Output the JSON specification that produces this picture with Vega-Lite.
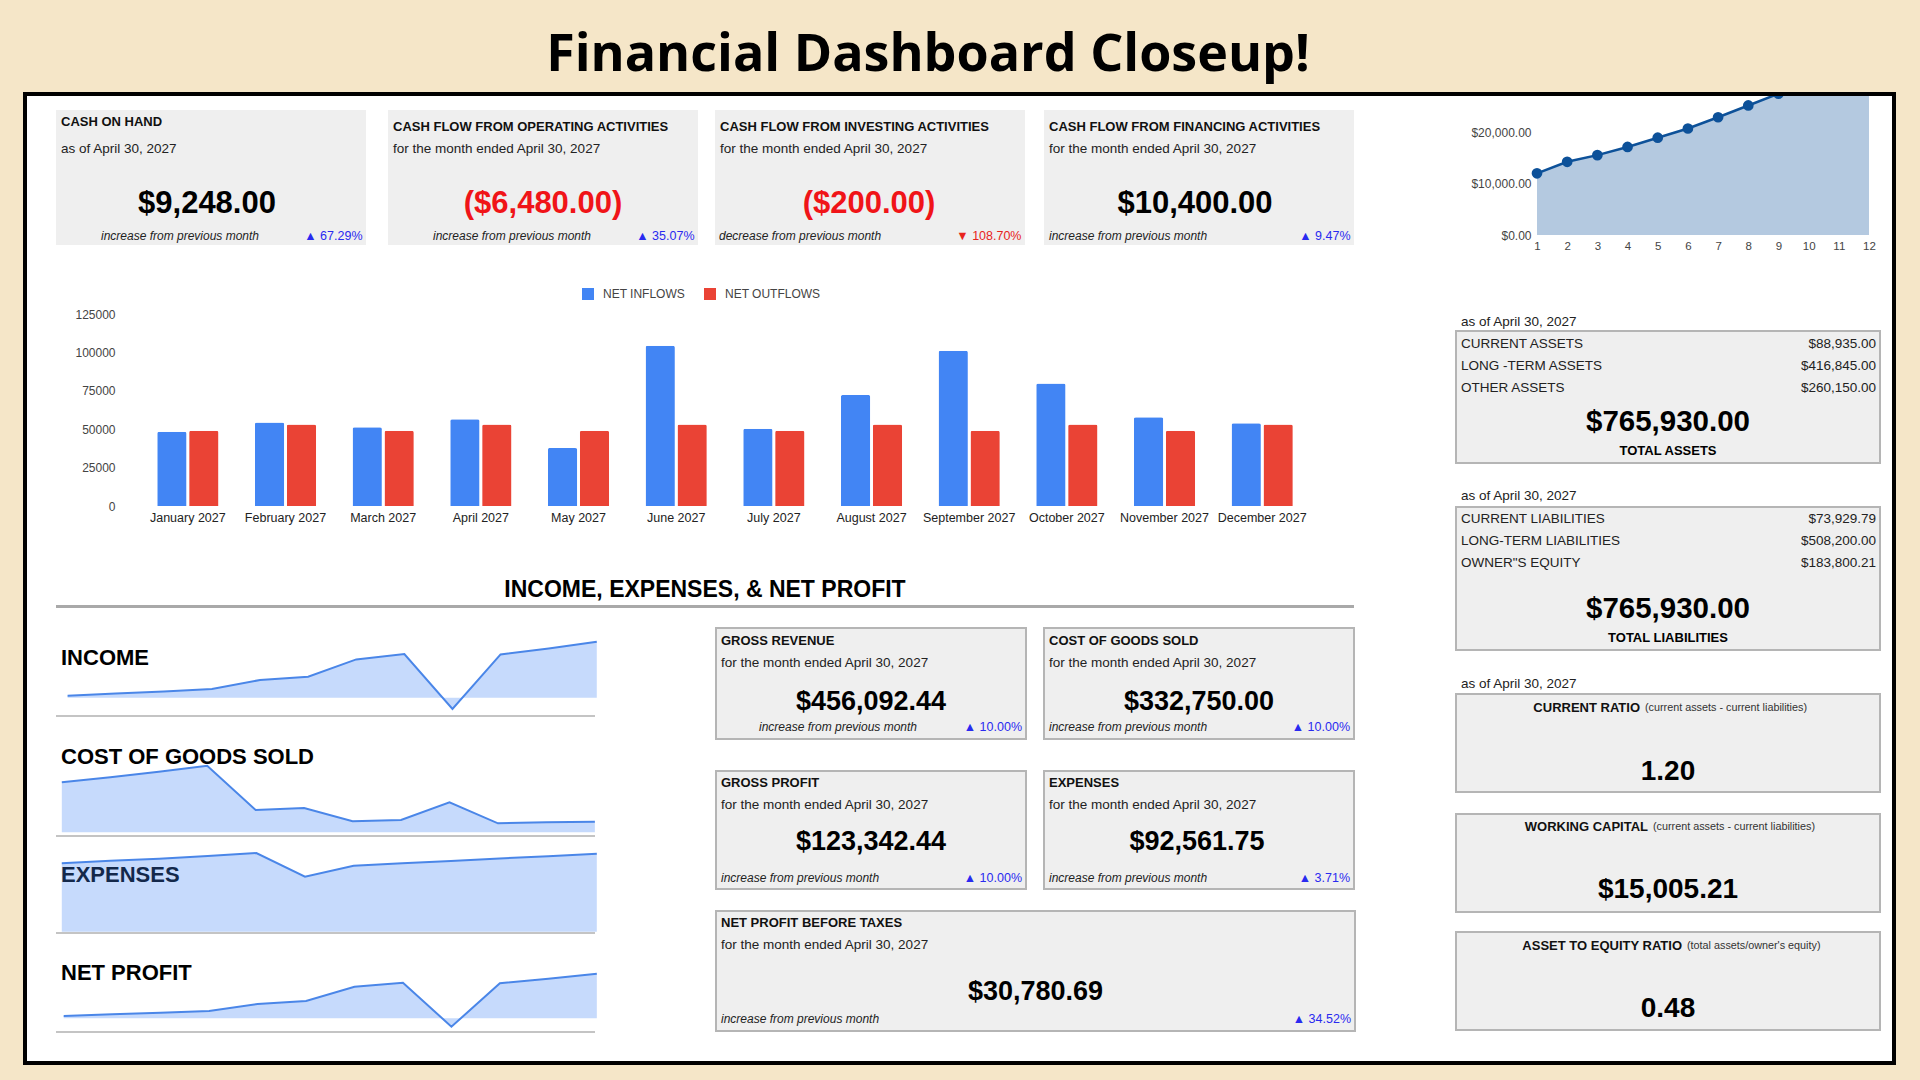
{
  "$schema": "https://vega.github.io/schema/vega-lite/v6.json",
  "background": "#ffffff",
  "padding": 0,
  "spacing": 0,
  "datasets": {
    "kpi": [
      {"id": "cash", "title": "CASH ON HAND", "sub": "as of April 30, 2027", "value": 9248, "note": "increase from previous month", "change": "▲ 67.29%", "dir": "up"},
      {"id": "ops", "title": "CASH FLOW FROM OPERATING ACTIVITIES", "sub": "for the month ended April 30, 2027", "value": -6480, "note": "increase from previous month", "change": "▲ 35.07%", "dir": "up"},
      {"id": "inv", "title": "CASH FLOW FROM INVESTING ACTIVITIES", "sub": "for the month ended April 30, 2027", "value": -200, "note": "decrease from previous month", "change": "▼ 108.70%", "dir": "down"},
      {"id": "fin", "title": "CASH FLOW FROM FINANCING ACTIVITIES", "sub": "for the month ended April 30, 2027", "value": 10400, "note": "increase from previous month", "change": "▲ 9.47%", "dir": "up"},
      {"id": "rev", "title": "GROSS REVENUE", "sub": "for the month ended April 30, 2027", "value": 456092.44, "note": "increase from previous month", "change": "▲ 10.00%", "dir": "up"},
      {"id": "cogs", "title": "COST OF GOODS SOLD", "sub": "for the month ended April 30, 2027", "value": 332750, "note": "increase from previous month", "change": "▲ 10.00%", "dir": "up"},
      {"id": "gp", "title": "GROSS PROFIT", "sub": "for the month ended April 30, 2027", "value": 123342.44, "note": "increase from previous month", "change": "▲ 10.00%", "dir": "up"},
      {"id": "exp", "title": "EXPENSES", "sub": "for the month ended April 30, 2027", "value": 92561.75, "note": "increase from previous month", "change": "▲ 3.71%", "dir": "up"},
      {"id": "np", "title": "NET PROFIT BEFORE TAXES", "sub": "for the month ended April 30, 2027", "value": 30780.69, "note": "increase from previous month", "change": "▲ 34.52%", "dir": "up"}
    ],
    "flows": [
      {"month": "January 2027", "flow": "NET INFLOWS", "amount": 48300},
      {"month": "January 2027", "flow": "NET OUTFLOWS", "amount": 49000},
      {"month": "February 2027", "flow": "NET INFLOWS", "amount": 54400},
      {"month": "February 2027", "flow": "NET OUTFLOWS", "amount": 53000},
      {"month": "March 2027", "flow": "NET INFLOWS", "amount": 51200},
      {"month": "March 2027", "flow": "NET OUTFLOWS", "amount": 49000},
      {"month": "April 2027", "flow": "NET INFLOWS", "amount": 56400},
      {"month": "April 2027", "flow": "NET OUTFLOWS", "amount": 53000},
      {"month": "May 2027", "flow": "NET INFLOWS", "amount": 37700},
      {"month": "May 2027", "flow": "NET OUTFLOWS", "amount": 49000},
      {"month": "June 2027", "flow": "NET INFLOWS", "amount": 104300},
      {"month": "June 2027", "flow": "NET OUTFLOWS", "amount": 53000},
      {"month": "July 2027", "flow": "NET INFLOWS", "amount": 50300},
      {"month": "July 2027", "flow": "NET OUTFLOWS", "amount": 49000},
      {"month": "August 2027", "flow": "NET INFLOWS", "amount": 72300},
      {"month": "August 2027", "flow": "NET OUTFLOWS", "amount": 53000},
      {"month": "September 2027", "flow": "NET INFLOWS", "amount": 101000},
      {"month": "September 2027", "flow": "NET OUTFLOWS", "amount": 49000},
      {"month": "October 2027", "flow": "NET INFLOWS", "amount": 79700},
      {"month": "October 2027", "flow": "NET OUTFLOWS", "amount": 53000},
      {"month": "November 2027", "flow": "NET INFLOWS", "amount": 57700},
      {"month": "November 2027", "flow": "NET OUTFLOWS", "amount": 49000},
      {"month": "December 2027", "flow": "NET INFLOWS", "amount": 53800},
      {"month": "December 2027", "flow": "NET OUTFLOWS", "amount": 53000}
    ],
    "cash": [
      {"month": 1, "balance": 12050}, {"month": 2, "balance": 14300}, {"month": 3, "balance": 15600},
      {"month": 4, "balance": 17200}, {"month": 5, "balance": 19000}, {"month": 6, "balance": 20800},
      {"month": 7, "balance": 23000}, {"month": 8, "balance": 25300}, {"month": 9, "balance": 27600},
      {"month": 10, "balance": 30200}, {"month": 11, "balance": 33000}, {"month": 12, "balance": 36000}
    ],
    "trend": [
      {"metric": "INCOME", "month": 1, "amount": 104800}, {"metric": "INCOME", "month": 2, "amount": 225300},
      {"metric": "INCOME", "month": 3, "amount": 330100}, {"metric": "INCOME", "month": 4, "amount": 456092},
      {"metric": "INCOME", "month": 5, "amount": 927500}, {"metric": "INCOME", "month": 6, "amount": 1100400},
      {"metric": "INCOME", "month": 7, "amount": 2006900}, {"metric": "INCOME", "month": 8, "amount": 2289900},
      {"metric": "INCOME", "month": 9, "amount": -592100}, {"metric": "INCOME", "month": 10, "amount": 2268900},
      {"metric": "INCOME", "month": 11, "amount": 2583300}, {"metric": "INCOME", "month": 12, "amount": 2934400},
      {"metric": "COGS", "month": 1, "amount": 250000}, {"metric": "COGS", "month": 2, "amount": 275000},
      {"metric": "COGS", "month": 3, "amount": 302500}, {"metric": "COGS", "month": 4, "amount": 332750},
      {"metric": "COGS", "month": 5, "amount": 111500}, {"metric": "COGS", "month": 6, "amount": 121500},
      {"metric": "COGS", "month": 7, "amount": 55000}, {"metric": "COGS", "month": 8, "amount": 61500},
      {"metric": "COGS", "month": 9, "amount": 150000}, {"metric": "COGS", "month": 10, "amount": 45000},
      {"metric": "COGS", "month": 11, "amount": 50000}, {"metric": "COGS", "month": 12, "amount": 53000},
      {"metric": "EXPENSES", "month": 1, "amount": 83600}, {"metric": "EXPENSES", "month": 2, "amount": 86700},
      {"metric": "EXPENSES", "month": 3, "amount": 89250}, {"metric": "EXPENSES", "month": 4, "amount": 92562},
      {"metric": "EXPENSES", "month": 5, "amount": 96200}, {"metric": "EXPENSES", "month": 6, "amount": 67200},
      {"metric": "EXPENSES", "month": 7, "amount": 80700}, {"metric": "EXPENSES", "month": 8, "amount": 83600},
      {"metric": "EXPENSES", "month": 9, "amount": 86400}, {"metric": "EXPENSES", "month": 10, "amount": 89500},
      {"metric": "EXPENSES", "month": 11, "amount": 92400}, {"metric": "EXPENSES", "month": 12, "amount": 95400},
      {"metric": "NET PROFIT", "month": 1, "amount": 9700}, {"metric": "NET PROFIT", "month": 2, "amount": 16800},
      {"metric": "NET PROFIT", "month": 3, "amount": 22882}, {"metric": "NET PROFIT", "month": 4, "amount": 30781},
      {"metric": "NET PROFIT", "month": 5, "amount": 60100}, {"metric": "NET PROFIT", "month": 6, "amount": 72700},
      {"metric": "NET PROFIT", "month": 7, "amount": 132700}, {"metric": "NET PROFIT", "month": 8, "amount": 149500},
      {"metric": "NET PROFIT", "month": 9, "amount": -35300}, {"metric": "NET PROFIT", "month": 10, "amount": 147000},
      {"metric": "NET PROFIT", "month": 11, "amount": 166300}, {"metric": "NET PROFIT", "month": 12, "amount": 187300}
    ],
    "balance": [
      {"group": "assets", "item": "CURRENT ASSETS", "amount": 88935},
      {"group": "assets", "item": "LONG -TERM ASSETS", "amount": 416845},
      {"group": "assets", "item": "OTHER ASSETS", "amount": 260150},
      {"group": "liab", "item": "CURRENT LIABILITIES", "amount": 73929.79},
      {"group": "liab", "item": "LONG-TERM LIABILITIES", "amount": 508200},
      {"group": "liab", "item": "OWNER\"S EQUITY", "amount": 183800.21}
    ],
    "ratios": [
      {"id": "cr", "metric": "CURRENT RATIO", "basis": "(current assets - current liabilities)", "value": 1.2},
      {"id": "wc", "metric": "WORKING CAPITAL", "basis": "(current assets - current liabilities)", "value": 15005.21},
      {"id": "ae", "metric": "ASSET TO EQUITY RATIO", "basis": "(total assets/owner's equity)", "value": 0.48}
    ]
  },
  "vconcat": [
    {
      "width": 1920, "height": 92,
      "view": {"fill": "#F5E6C8", "stroke": null},
      "data": {"values": [{"headline": "Financial Dashboard Closeup!"}]},
      "mark": {"type": "text", "x": 928, "y": 55, "align": "center", "baseline": "middle", "font": "Open Sans", "fontWeight": "bold", "fontSize": 52, "color": "#000000"},
      "encoding": {"text": {"field": "headline"}}
    },
    {
      "spacing": 0,
      "hconcat": [
        {"width": 23, "height": 973, "view": {"fill": "#F5E6C8", "stroke": null}, "data": {"values": []}, "mark": "point"},
        {"width": 4, "height": 973, "view": {"fill": "#000000", "stroke": null}, "data": {"values": []}, "mark": "point"},
        {
          "spacing": 0,
          "vconcat": [
            {"width": 1865, "height": 4, "view": {"fill": "#000000", "stroke": null}, "data": {"values": []}, "mark": "point"},
            {
              "spacing": 0,
              "hconcat": [
                {
                  "spacing": 0,
                  "vconcat": [
                    {"width": 1353, "height": 14, "view": {"fill": "#ffffff"}, "data": {"values": []}, "mark": "point"},
                    {
                      "spacing": 0,
                      "hconcat": [
                        {"width": 29, "height": 135, "view": {"fill": "#ffffff"}, "data": {"values": []}, "mark": "point"},
                        {
                          "width": 310, "height": 135, "view": {"fill": "#efefef", "stroke": null},
                          "data": {"name": "kpi"}, "transform": [{"filter": "datum.id == 'cash'"}],
                          "layer": [
                            {"mark": {"type": "text", "align": "left", "baseline": "middle", "x": 5, "y": 11.7, "fontSize": 13, "fontWeight": "bold", "color": "#111111"}, "encoding": {"text": {"field": "title"}}},
                            {"mark": {"type": "text", "align": "left", "baseline": "middle", "x": 5, "y": 39, "fontSize": 13.5, "color": "#222222"}, "encoding": {"text": {"field": "sub"}}},
                            {"mark": {"type": "text", "align": "center", "baseline": "middle", "x": 151, "y": 94, "fontSize": 31, "fontWeight": "bold"}, "encoding": {"text": {"field": "value", "type": "quantitative", "format": "($,.2f"}, "color": {"condition": {"test": "datum.value < 0", "value": "#f01418"}, "value": "#000000"}}},
                            {"mark": {"type": "text", "align": "center", "baseline": "middle", "x": 124, "y": 125.7, "fontSize": 12, "fontStyle": "italic", "color": "#222222"}, "encoding": {"text": {"field": "note"}}},
                            {"mark": {"type": "text", "align": "right", "baseline": "middle", "x": 306.5, "y": 125.7, "fontSize": 12.5}, "encoding": {"text": {"field": "change"}, "color": {"condition": {"test": "datum.dir == 'down'", "value": "#e8241c"}, "value": "#2a2af0"}}}
                          ]
                        },
                        {"width": 22, "height": 135, "view": {"fill": "#ffffff"}, "data": {"values": []}, "mark": "point"},
                        {
                          "width": 310, "height": 135, "view": {"fill": "#efefef", "stroke": null},
                          "data": {"name": "kpi"}, "transform": [{"filter": "datum.id == 'ops'"}],
                          "layer": [
                            {"mark": {"type": "text", "align": "left", "baseline": "middle", "x": 5, "y": 16.7, "fontSize": 13, "fontWeight": "bold", "color": "#111111"}, "encoding": {"text": {"field": "title"}}},
                            {"mark": {"type": "text", "align": "left", "baseline": "middle", "x": 5, "y": 39, "fontSize": 13.5, "color": "#222222"}, "encoding": {"text": {"field": "sub"}}},
                            {"mark": {"type": "text", "align": "center", "baseline": "middle", "x": 155, "y": 94, "fontSize": 31, "fontWeight": "bold"}, "encoding": {"text": {"field": "value", "type": "quantitative", "format": "($,.2f"}, "color": {"condition": {"test": "datum.value < 0", "value": "#f01418"}, "value": "#000000"}}},
                            {"mark": {"type": "text", "align": "center", "baseline": "middle", "x": 124, "y": 125.7, "fontSize": 12, "fontStyle": "italic", "color": "#222222"}, "encoding": {"text": {"field": "note"}}},
                            {"mark": {"type": "text", "align": "right", "baseline": "middle", "x": 306.5, "y": 125.7, "fontSize": 12.5}, "encoding": {"text": {"field": "change"}, "color": {"condition": {"test": "datum.dir == 'down'", "value": "#e8241c"}, "value": "#2a2af0"}}}
                          ]
                        },
                        {"width": 17, "height": 135, "view": {"fill": "#ffffff"}, "data": {"values": []}, "mark": "point"},
                        {
                          "width": 310, "height": 135, "view": {"fill": "#efefef", "stroke": null},
                          "data": {"name": "kpi"}, "transform": [{"filter": "datum.id == 'inv'"}],
                          "layer": [
                            {"mark": {"type": "text", "align": "left", "baseline": "middle", "x": 5, "y": 16.7, "fontSize": 13, "fontWeight": "bold", "color": "#111111"}, "encoding": {"text": {"field": "title"}}},
                            {"mark": {"type": "text", "align": "left", "baseline": "middle", "x": 5, "y": 39, "fontSize": 13.5, "color": "#222222"}, "encoding": {"text": {"field": "sub"}}},
                            {"mark": {"type": "text", "align": "center", "baseline": "middle", "x": 154, "y": 94, "fontSize": 31, "fontWeight": "bold"}, "encoding": {"text": {"field": "value", "type": "quantitative", "format": "($,.2f"}, "color": {"condition": {"test": "datum.value < 0", "value": "#f01418"}, "value": "#000000"}}},
                            {"mark": {"type": "text", "align": "left", "baseline": "middle", "x": 4, "y": 125.7, "fontSize": 12, "fontStyle": "italic", "color": "#222222"}, "encoding": {"text": {"field": "note"}}},
                            {"mark": {"type": "text", "align": "right", "baseline": "middle", "x": 306.5, "y": 125.7, "fontSize": 12.5}, "encoding": {"text": {"field": "change"}, "color": {"condition": {"test": "datum.dir == 'down'", "value": "#e8241c"}, "value": "#2a2af0"}}}
                          ]
                        },
                        {"width": 19, "height": 135, "view": {"fill": "#ffffff"}, "data": {"values": []}, "mark": "point"},
                        {
                          "width": 310, "height": 135, "view": {"fill": "#efefef", "stroke": null},
                          "data": {"name": "kpi"}, "transform": [{"filter": "datum.id == 'fin'"}],
                          "layer": [
                            {"mark": {"type": "text", "align": "left", "baseline": "middle", "x": 5, "y": 16.7, "fontSize": 13, "fontWeight": "bold", "color": "#111111"}, "encoding": {"text": {"field": "title"}}},
                            {"mark": {"type": "text", "align": "left", "baseline": "middle", "x": 5, "y": 39, "fontSize": 13.5, "color": "#222222"}, "encoding": {"text": {"field": "sub"}}},
                            {"mark": {"type": "text", "align": "center", "baseline": "middle", "x": 151, "y": 94, "fontSize": 31, "fontWeight": "bold"}, "encoding": {"text": {"field": "value", "type": "quantitative", "format": "($,.2f"}, "color": {"condition": {"test": "datum.value < 0", "value": "#f01418"}, "value": "#000000"}}},
                            {"mark": {"type": "text", "align": "left", "baseline": "middle", "x": 5, "y": 125.7, "fontSize": 12, "fontStyle": "italic", "color": "#222222"}, "encoding": {"text": {"field": "note"}}},
                            {"mark": {"type": "text", "align": "right", "baseline": "middle", "x": 306.5, "y": 125.7, "fontSize": 12.5}, "encoding": {"text": {"field": "change"}, "color": {"condition": {"test": "datum.dir == 'down'", "value": "#e8241c"}, "value": "#2a2af0"}}}
                          ]
                        }
                      ]
                    },
                    {
                      "spacing": 0,
                      "hconcat": [
                        {"width": 29, "height": 331, "view": {"fill": "#ffffff"}, "data": {"values": []}, "mark": "point"},
                        {
                          "width": 1298, "height": 331, "view": {"fill": "#ffffff"},
                          "data": {"name": "flows"},
                          "mark": {"type": "bar", "cornerRadiusTopLeft": 2, "cornerRadiusTopRight": 2},
                          "encoding": {
                            "x": {"field": "month", "type": "nominal", "sort": null, "scale": {"range": [83, 1255], "paddingInner": 0.373, "paddingOuter": 0.1865},
                                  "axis": {"title": null, "offset": -70, "labelAngle": 0, "labelFontSize": 12.5, "labelColor": "#222222", "labelPadding": 5, "domain": false, "ticks": false, "grid": false}},
                            "xOffset": {"field": "flow", "type": "nominal", "sort": null, "scale": {"paddingInner": 0.0815}},
                            "y": {"field": "amount", "type": "quantitative", "scale": {"domain": [0, 125000], "range": [261, 69], "nice": false},
                                  "axis": {"title": null, "offset": -83, "values": [0, 25000, 50000, 75000, 100000, 125000], "format": "d", "labelFontSize": 12, "labelColor": "#444444", "labelPadding": 24, "domain": false, "ticks": false, "grid": false}},
                            "color": {"field": "flow", "type": "nominal", "sort": null,
                                      "scale": {"domain": ["NET INFLOWS", "NET OUTFLOWS"], "range": ["#4285f4", "#ea4335"]},
                                      "legend": {"title": null, "orient": "none", "legendX": 582, "legendY": 288, "direction": "horizontal", "symbolType": "square", "symbolSize": 144, "symbolStrokeWidth": 0, "labelFontSize": 12, "labelColor": "#444444", "labelOffset": 9, "columnPadding": 18}}
                          }
                        }
                      ]
                    },
                    {
                      "spacing": 0,
                      "hconcat": [
                        {"width": 29, "height": 29, "view": {"fill": "#ffffff"}, "data": {"values": []}, "mark": "point"},
                        {
                          "width": 1298, "height": 29, "view": {"fill": "#ffffff"},
                          "data": {"values": [{"heading": "INCOME, EXPENSES, & NET PROFIT"}]},
                          "mark": {"type": "text", "align": "center", "baseline": "middle", "x": 649, "y": 14, "fontSize": 23, "fontWeight": "bold", "color": "#000000"},
                          "encoding": {"text": {"field": "heading"}}
                        }
                      ]
                    },
                    {
                      "spacing": 0,
                      "hconcat": [
                        {"width": 29, "height": 3, "view": {"fill": "#ffffff"}, "data": {"values": []}, "mark": "point"},
                        {"width": 1298, "height": 3, "view": {"fill": "#a9a9a9", "stroke": null}, "data": {"values": []}, "mark": "point"}
                      ]
                    },
                    {
                      "spacing": 0,
                      "hconcat": [
                        {"width": 29, "height": 10, "view": {"fill": "#ffffff"}, "data": {"values": []}, "mark": "point"},
                        {
                          "spacing": 0,
                          "vconcat": [
                            {
                              "width": 543, "height": 107, "view": {"fill": "#ffffff"},
                              "data": {"name": "trend"}, "transform": [{"filter": "datum.metric == 'INCOME'"}],
                              "layer": [
                                {"data": {"values": [{"label": "INCOME"}]}, "mark": {"type": "text", "align": "left", "baseline": "middle", "x": 5, "y": 50.3, "fontSize": 22, "fontWeight": "bold", "color": "#000000"}, "encoding": {"text": {"field": "label"}}},
                                {
                                  "encoding": {
                                    "x": {"field": "month", "type": "quantitative", "scale": {"domain": [0.759, 12.046], "nice": false, "zero": false}, "axis": null},
                                    "y": {"field": "amount", "type": "quantitative", "scale": {"domain": [-906520, 4700280], "nice": false}, "axis": null}
                                  },
                                  "layer": [
                                    {"mark": {"type": "area", "color": "#4285f4", "fillOpacity": 0.3}, "encoding": {"y2": {"datum": 0}}},
                                    {"mark": {"type": "line", "color": "#4a86e8", "strokeWidth": 2}}
                                  ]
                                }
                              ]
                            },
                            {"width": 539, "height": 2, "view": {"fill": "#c4c4c4", "stroke": null}, "data": {"values": []}, "mark": "point"},
                            {
                              "width": 543, "height": 118, "view": {"fill": "#ffffff"},
                              "data": {"name": "trend"}, "transform": [{"filter": "datum.metric == 'COGS'"}],
                              "layer": [
                                {"data": {"values": [{"label": "COST OF GOODS SOLD"}]}, "mark": {"type": "text", "align": "left", "baseline": "middle", "x": 5, "y": 39.7, "fontSize": 22, "fontWeight": "bold", "color": "#000000"}, "encoding": {"text": {"field": "label"}}},
                                {
                                  "encoding": {
                                    "x": {"field": "month", "type": "quantitative", "scale": {"domain": [0.88, 12.085], "nice": false, "zero": false}, "axis": null},
                                    "y": {"field": "amount", "type": "quantitative", "scale": {"domain": [-13500, 576500], "nice": false}, "axis": null}
                                  },
                                  "layer": [
                                    {"mark": {"type": "area", "color": "#4285f4", "fillOpacity": 0.3}, "encoding": {"y2": {"datum": 0}}},
                                    {"mark": {"type": "line", "color": "#4a86e8", "strokeWidth": 2}}
                                  ]
                                }
                              ]
                            },
                            {"width": 539, "height": 2, "view": {"fill": "#c4c4c4", "stroke": null}, "data": {"values": []}, "mark": "point"},
                            {
                              "width": 543, "height": 95, "view": {"fill": "#ffffff"},
                              "data": {"name": "trend"}, "transform": [{"filter": "datum.metric == 'EXPENSES'"}],
                              "layer": [
                                {"data": {"values": [{"label": "EXPENSES"}]}, "mark": {"type": "text", "align": "left", "baseline": "middle", "x": 5, "y": 38, "fontSize": 22, "fontWeight": "bold", "color": "#000000"}, "encoding": {"text": {"field": "label"}}},
                                {
                                  "encoding": {
                                    "x": {"field": "month", "type": "quantitative", "scale": {"domain": [0.881, 12.045], "nice": false, "zero": false}, "axis": null},
                                    "y": {"field": "amount", "type": "quantitative", "scale": {"domain": [-367, 115790], "nice": false}, "axis": null}
                                  },
                                  "layer": [
                                    {"mark": {"type": "area", "color": "#4285f4", "fillOpacity": 0.3}, "encoding": {"y2": {"datum": 0}}},
                                    {"mark": {"type": "line", "color": "#4a86e8", "strokeWidth": 2}}
                                  ]
                                }
                              ]
                            },
                            {"width": 539, "height": 2, "view": {"fill": "#c4c4c4", "stroke": null}, "data": {"values": []}, "mark": "point"},
                            {
                              "width": 543, "height": 95, "view": {"fill": "#ffffff"},
                              "data": {"name": "trend"}, "transform": [{"filter": "datum.metric == 'NET PROFIT'"}],
                              "layer": [
                                {"data": {"values": [{"label": "NET PROFIT"}]}, "mark": {"type": "text", "align": "left", "baseline": "middle", "x": 5, "y": 38.7, "fontSize": 22, "fontWeight": "bold", "color": "#000000"}, "encoding": {"text": {"field": "label"}}},
                                {
                                  "encoding": {
                                    "x": {"field": "month", "type": "quantitative", "scale": {"domain": [0.841, 12.045], "nice": false, "zero": false}, "axis": null},
                                    "y": {"field": "amount", "type": "quantitative", "scale": {"domain": [-44940, 354060], "nice": false}, "axis": null}
                                  },
                                  "layer": [
                                    {"mark": {"type": "area", "color": "#4285f4", "fillOpacity": 0.3}, "encoding": {"y2": {"datum": 0}}},
                                    {"mark": {"type": "line", "color": "#4a86e8", "strokeWidth": 2}}
                                  ]
                                }
                              ]
                            },
                            {"width": 539, "height": 2, "view": {"fill": "#c4c4c4", "stroke": null}, "data": {"values": []}, "mark": "point"}
                          ]
                        },
                        {"width": 114, "height": 10, "view": {"fill": "#ffffff"}, "data": {"values": []}, "mark": "point"},
                        {
                          "spacing": 0,
                          "vconcat": [
                            {"width": 641, "height": 19, "view": {"fill": "#ffffff"}, "data": {"values": []}, "mark": "point"},
                            {
                              "spacing": 0,
                              "hconcat": [
                                {
                                  "width": 310, "height": 111, "view": {"fill": "#efefef", "stroke": "#b5b5b5", "strokeWidth": 2},
                                  "data": {"name": "kpi"}, "transform": [{"filter": "datum.id == 'rev'"}],
                                  "layer": [
                                    {"mark": {"type": "text", "align": "left", "baseline": "middle", "x": 5, "y": 12.7, "fontSize": 13, "fontWeight": "bold", "color": "#111111"}, "encoding": {"text": {"field": "title"}}},
                                    {"mark": {"type": "text", "align": "left", "baseline": "middle", "x": 5, "y": 35.3, "fontSize": 13.5, "color": "#222222"}, "encoding": {"text": {"field": "sub"}}},
                                    {"mark": {"type": "text", "align": "center", "baseline": "middle", "x": 155, "y": 73.5, "fontSize": 27, "fontWeight": "bold", "color": "#000000"}, "encoding": {"text": {"field": "value", "type": "quantitative", "format": "($,.2f"}}},
                                    {"mark": {"type": "text", "align": "center", "baseline": "middle", "x": 122, "y": 99.3, "fontSize": 12, "fontStyle": "italic", "color": "#222222"}, "encoding": {"text": {"field": "note"}}},
                                    {"mark": {"type": "text", "align": "right", "baseline": "middle", "x": 306, "y": 99.3, "fontSize": 12.5, "color": "#2a2af0"}, "encoding": {"text": {"field": "change"}}}
                                  ]
                                },
                                {"width": 16, "height": 111, "view": {"fill": "#ffffff"}, "data": {"values": []}, "mark": "point"},
                                {
                                  "width": 310, "height": 111, "view": {"fill": "#efefef", "stroke": "#b5b5b5", "strokeWidth": 2},
                                  "data": {"name": "kpi"}, "transform": [{"filter": "datum.id == 'cogs'"}],
                                  "layer": [
                                    {"mark": {"type": "text", "align": "left", "baseline": "middle", "x": 5, "y": 12.7, "fontSize": 13, "fontWeight": "bold", "color": "#111111"}, "encoding": {"text": {"field": "title"}}},
                                    {"mark": {"type": "text", "align": "left", "baseline": "middle", "x": 5, "y": 35.3, "fontSize": 13.5, "color": "#222222"}, "encoding": {"text": {"field": "sub"}}},
                                    {"mark": {"type": "text", "align": "center", "baseline": "middle", "x": 155, "y": 73.5, "fontSize": 27, "fontWeight": "bold", "color": "#000000"}, "encoding": {"text": {"field": "value", "type": "quantitative", "format": "($,.2f"}}},
                                    {"mark": {"type": "text", "align": "left", "baseline": "middle", "x": 5, "y": 99.3, "fontSize": 12, "fontStyle": "italic", "color": "#222222"}, "encoding": {"text": {"field": "note"}}},
                                    {"mark": {"type": "text", "align": "right", "baseline": "middle", "x": 306, "y": 99.3, "fontSize": 12.5, "color": "#2a2af0"}, "encoding": {"text": {"field": "change"}}}
                                  ]
                                }
                              ]
                            },
                            {"width": 1, "height": 30, "view": {"fill": "#ffffff"}, "data": {"values": []}, "mark": "point"},
                            {
                              "spacing": 0,
                              "hconcat": [
                                {
                                  "width": 310, "height": 118, "view": {"fill": "#efefef", "stroke": "#b5b5b5", "strokeWidth": 2},
                                  "data": {"name": "kpi"}, "transform": [{"filter": "datum.id == 'gp'"}],
                                  "layer": [
                                    {"mark": {"type": "text", "align": "left", "baseline": "middle", "x": 5, "y": 11.7, "fontSize": 13, "fontWeight": "bold", "color": "#111111"}, "encoding": {"text": {"field": "title"}}},
                                    {"mark": {"type": "text", "align": "left", "baseline": "middle", "x": 5, "y": 34, "fontSize": 13.5, "color": "#222222"}, "encoding": {"text": {"field": "sub"}}},
                                    {"mark": {"type": "text", "align": "center", "baseline": "middle", "x": 155, "y": 70.5, "fontSize": 27, "fontWeight": "bold", "color": "#000000"}, "encoding": {"text": {"field": "value", "type": "quantitative", "format": "($,.2f"}}},
                                    {"mark": {"type": "text", "align": "left", "baseline": "middle", "x": 5, "y": 107.3, "fontSize": 12, "fontStyle": "italic", "color": "#222222"}, "encoding": {"text": {"field": "note"}}},
                                    {"mark": {"type": "text", "align": "right", "baseline": "middle", "x": 306, "y": 107.3, "fontSize": 12.5, "color": "#2a2af0"}, "encoding": {"text": {"field": "change"}}}
                                  ]
                                },
                                {"width": 16, "height": 118, "view": {"fill": "#ffffff"}, "data": {"values": []}, "mark": "point"},
                                {
                                  "width": 310, "height": 118, "view": {"fill": "#efefef", "stroke": "#b5b5b5", "strokeWidth": 2},
                                  "data": {"name": "kpi"}, "transform": [{"filter": "datum.id == 'exp'"}],
                                  "layer": [
                                    {"mark": {"type": "text", "align": "left", "baseline": "middle", "x": 5, "y": 11.7, "fontSize": 13, "fontWeight": "bold", "color": "#111111"}, "encoding": {"text": {"field": "title"}}},
                                    {"mark": {"type": "text", "align": "left", "baseline": "middle", "x": 5, "y": 34, "fontSize": 13.5, "color": "#222222"}, "encoding": {"text": {"field": "sub"}}},
                                    {"mark": {"type": "text", "align": "center", "baseline": "middle", "x": 153, "y": 70.5, "fontSize": 27, "fontWeight": "bold", "color": "#000000"}, "encoding": {"text": {"field": "value", "type": "quantitative", "format": "($,.2f"}}},
                                    {"mark": {"type": "text", "align": "left", "baseline": "middle", "x": 5, "y": 107.3, "fontSize": 12, "fontStyle": "italic", "color": "#222222"}, "encoding": {"text": {"field": "note"}}},
                                    {"mark": {"type": "text", "align": "right", "baseline": "middle", "x": 306, "y": 107.3, "fontSize": 12.5, "color": "#2a2af0"}, "encoding": {"text": {"field": "change"}}}
                                  ]
                                }
                              ]
                            },
                            {"width": 1, "height": 20, "view": {"fill": "#ffffff"}, "data": {"values": []}, "mark": "point"},
                            {
                              "width": 639, "height": 120, "view": {"fill": "#efefef", "stroke": "#b5b5b5", "strokeWidth": 2},
                              "data": {"name": "kpi"}, "transform": [{"filter": "datum.id == 'np'"}],
                              "layer": [
                                {"mark": {"type": "text", "align": "left", "baseline": "middle", "x": 5, "y": 12.3, "fontSize": 13, "fontWeight": "bold", "color": "#111111"}, "encoding": {"text": {"field": "title"}}},
                                {"mark": {"type": "text", "align": "left", "baseline": "middle", "x": 5, "y": 34, "fontSize": 13.5, "color": "#222222"}, "encoding": {"text": {"field": "sub"}}},
                                {"mark": {"type": "text", "align": "center", "baseline": "middle", "x": 319.5, "y": 80.5, "fontSize": 27, "fontWeight": "bold", "color": "#000000"}, "encoding": {"text": {"field": "value", "type": "quantitative", "format": "($,.2f"}}},
                                {"mark": {"type": "text", "align": "left", "baseline": "middle", "x": 5, "y": 108, "fontSize": 12, "fontStyle": "italic", "color": "#222222"}, "encoding": {"text": {"field": "note"}}},
                                {"mark": {"type": "text", "align": "right", "baseline": "middle", "x": 635, "y": 108, "fontSize": 12.5, "color": "#2a2af0"}, "encoding": {"text": {"field": "change"}}}
                              ]
                            }
                          ]
                        }
                      ]
                    }
                  ]
                },
                {
                  "spacing": 0,
                  "vconcat": [
                    {
                      "spacing": 0,
                      "hconcat": [
                        {"width": 82, "height": 159, "view": {"fill": "#ffffff"}, "data": {"values": []}, "mark": "point"},
                        {
                          "width": 416, "height": 159, "view": {"fill": "#ffffff"},
                          "data": {"name": "cash"},
                          "encoding": {
                            "x": {"field": "month", "type": "quantitative", "scale": {"domain": [1, 12], "range": [75, 407], "nice": false, "zero": false},
                                  "axis": {"title": null, "offset": -20, "values": [1, 2, 3, 4, 5, 6, 7, 8, 9, 10, 11, 12], "format": "d", "labelFontSize": 11.5, "labelColor": "#444444", "labelPadding": 5, "labelFlush": false, "labelOverlap": false, "domain": false, "ticks": false, "grid": false}},
                            "y": {"field": "balance", "type": "quantitative", "scale": {"domain": [0, 27150], "range": [139, 0], "nice": false},
                                  "axis": {"title": null, "offset": -75, "values": [0, 10000, 20000], "format": "$,.2f", "labelFontSize": 12, "labelColor": "#444444", "labelPadding": 6, "labelFlush": false, "labelOverlap": false, "domain": false, "ticks": false, "grid": false}}
                          },
                          "layer": [
                            {"mark": {"type": "area", "color": "#b4c9e0", "clip": true}},
                            {"mark": {"type": "line", "color": "#0d5199", "strokeWidth": 2.5, "clip": true}},
                            {"mark": {"type": "point", "filled": true, "size": 115, "color": "#0d5199", "opacity": 1, "clip": true}}
                          ]
                        }
                      ]
                    },
                    {"width": 512, "height": 56, "view": {"fill": "#ffffff"}, "data": {"values": []}, "mark": "point"},
                    {
                      "spacing": 0,
                      "hconcat": [
                        {"width": 76, "height": 19, "view": {"fill": "#ffffff"}, "data": {"values": []}, "mark": "point"},
                        {"width": 424, "height": 19, "view": {"fill": "#ffffff"}, "data": {"values": [{"caption": "as of April 30, 2027"}]}, "mark": {"type": "text", "align": "left", "baseline": "middle", "x": 5, "y": 10.7, "fontSize": 13.5, "color": "#222222"}, "encoding": {"text": {"field": "caption"}}}
                      ]
                    },
                    {
                      "spacing": 0,
                      "hconcat": [
                        {"width": 75, "height": 132, "view": {"fill": "#ffffff"}, "data": {"values": []}, "mark": "point"},
                        {
                          "width": 424, "height": 132, "view": {"fill": "#efefef", "stroke": "#b5b5b5", "strokeWidth": 2},
                          "data": {"name": "balance"}, "transform": [{"filter": "datum.group == 'assets'"}],
                          "layer": [
                            {"mark": {"type": "text", "align": "left", "baseline": "middle", "x": 5, "fontSize": 13.5, "color": "#222222"},
                             "encoding": {"y": {"field": "item", "type": "nominal", "sort": null, "scale": {"type": "point", "range": [13.3, 56.7], "padding": 0}, "axis": null}, "text": {"field": "item"}}},
                            {"mark": {"type": "text", "align": "right", "baseline": "middle", "x": 420, "fontSize": 13.5, "color": "#222222"},
                             "encoding": {"y": {"field": "item", "type": "nominal", "sort": null, "axis": null}, "text": {"field": "amount", "type": "quantitative", "format": "$,.2f"}}},
                            {"transform": [{"aggregate": [{"op": "sum", "field": "amount", "as": "total"}]}],
                             "layer": [
                               {"mark": {"type": "text", "align": "center", "baseline": "middle", "x": 212, "y": 90.7, "fontSize": 29.5, "fontWeight": "bold", "color": "#000000"}, "encoding": {"text": {"field": "total", "type": "quantitative", "format": "$,.2f"}}},
                               {"mark": {"type": "text", "align": "center", "baseline": "middle", "x": 212, "y": 119.7, "fontSize": 13, "fontWeight": "bold", "color": "#000000", "text": "TOTAL ASSETS"}}
                             ]}
                          ]
                        }
                      ]
                    },
                    {"width": 1, "height": 23, "view": {"fill": "#ffffff"}, "data": {"values": []}, "mark": "point"},
                    {
                      "spacing": 0,
                      "hconcat": [
                        {"width": 76, "height": 19, "view": {"fill": "#ffffff"}, "data": {"values": []}, "mark": "point"},
                        {"width": 424, "height": 19, "view": {"fill": "#ffffff"}, "data": {"values": [{"caption": "as of April 30, 2027"}]}, "mark": {"type": "text", "align": "left", "baseline": "middle", "x": 5, "y": 9, "fontSize": 13.5, "color": "#222222"}, "encoding": {"text": {"field": "caption"}}}
                      ]
                    },
                    {
                      "spacing": 0,
                      "hconcat": [
                        {"width": 75, "height": 143, "view": {"fill": "#ffffff"}, "data": {"values": []}, "mark": "point"},
                        {
                          "width": 424, "height": 143, "view": {"fill": "#efefef", "stroke": "#b5b5b5", "strokeWidth": 2},
                          "data": {"name": "balance"}, "transform": [{"filter": "datum.group == 'liab'"}],
                          "layer": [
                            {"mark": {"type": "text", "align": "left", "baseline": "middle", "x": 5, "fontSize": 13.5, "color": "#222222"},
                             "encoding": {"y": {"field": "item", "type": "nominal", "sort": null, "scale": {"type": "point", "range": [12, 55.7], "padding": 0}, "axis": null}, "text": {"field": "item"}}},
                            {"mark": {"type": "text", "align": "right", "baseline": "middle", "x": 420, "fontSize": 13.5, "color": "#222222"},
                             "encoding": {"y": {"field": "item", "type": "nominal", "sort": null, "axis": null}, "text": {"field": "amount", "type": "quantitative", "format": "$,.2f"}}},
                            {"transform": [{"aggregate": [{"op": "sum", "field": "amount", "as": "total"}]}],
                             "layer": [
                               {"mark": {"type": "text", "align": "center", "baseline": "middle", "x": 212, "y": 102.3, "fontSize": 29.5, "fontWeight": "bold", "color": "#000000"}, "encoding": {"text": {"field": "total", "type": "quantitative", "format": "$,.2f"}}},
                               {"mark": {"type": "text", "align": "center", "baseline": "middle", "x": 212, "y": 131.3, "fontSize": 13, "fontWeight": "bold", "color": "#000000", "text": "TOTAL LIABILITIES"}}
                             ]}
                          ]
                        }
                      ]
                    },
                    {"width": 1, "height": 23, "view": {"fill": "#ffffff"}, "data": {"values": []}, "mark": "point"},
                    {
                      "spacing": 0,
                      "hconcat": [
                        {"width": 76, "height": 19, "view": {"fill": "#ffffff"}, "data": {"values": []}, "mark": "point"},
                        {"width": 424, "height": 19, "view": {"fill": "#ffffff"}, "data": {"values": [{"caption": "as of April 30, 2027"}]}, "mark": {"type": "text", "align": "left", "baseline": "middle", "x": 5, "y": 10, "fontSize": 13.5, "color": "#222222"}, "encoding": {"text": {"field": "caption"}}}
                      ]
                    },
                    {
                      "spacing": 0,
                      "hconcat": [
                        {"width": 75, "height": 98, "view": {"fill": "#ffffff"}, "data": {"values": []}, "mark": "point"},
                        {
                          "width": 424, "height": 98, "view": {"fill": "#efefef", "stroke": "#b5b5b5", "strokeWidth": 2},
                          "data": {"name": "ratios"}, "transform": [{"filter": "datum.id == 'cr'"}],
                          "layer": [
                            {"mark": {"type": "text", "align": "right", "baseline": "middle", "x": 184, "y": 13.7, "fontSize": 13, "fontWeight": "bold", "color": "#111111"}, "encoding": {"text": {"field": "metric"}}},
                            {"mark": {"type": "text", "align": "left", "baseline": "middle", "x": 189, "y": 14.2, "fontSize": 10.8, "color": "#333333"}, "encoding": {"text": {"field": "basis"}}},
                            {"mark": {"type": "text", "align": "center", "baseline": "middle", "x": 212, "y": 77.7, "fontSize": 28, "fontWeight": "bold", "color": "#000000"}, "encoding": {"text": {"field": "value", "type": "quantitative", "format": ".2f"}}}
                          ]
                        }
                      ]
                    },
                    {"width": 1, "height": 20, "view": {"fill": "#ffffff"}, "data": {"values": []}, "mark": "point"},
                    {
                      "spacing": 0,
                      "hconcat": [
                        {"width": 75, "height": 98, "view": {"fill": "#ffffff"}, "data": {"values": []}, "mark": "point"},
                        {
                          "width": 424, "height": 98, "view": {"fill": "#efefef", "stroke": "#b5b5b5", "strokeWidth": 2},
                          "data": {"name": "ratios"}, "transform": [{"filter": "datum.id == 'wc'"}],
                          "layer": [
                            {"mark": {"type": "text", "align": "right", "baseline": "middle", "x": 192, "y": 12.7, "fontSize": 13, "fontWeight": "bold", "color": "#111111"}, "encoding": {"text": {"field": "metric"}}},
                            {"mark": {"type": "text", "align": "left", "baseline": "middle", "x": 197, "y": 13.2, "fontSize": 10.8, "color": "#333333"}, "encoding": {"text": {"field": "basis"}}},
                            {"mark": {"type": "text", "align": "center", "baseline": "middle", "x": 212, "y": 76, "fontSize": 28, "fontWeight": "bold", "color": "#000000"}, "encoding": {"text": {"field": "value", "type": "quantitative", "format": "$,.2f"}}}
                          ]
                        }
                      ]
                    },
                    {"width": 1, "height": 18, "view": {"fill": "#ffffff"}, "data": {"values": []}, "mark": "point"},
                    {
                      "spacing": 0,
                      "hconcat": [
                        {"width": 75, "height": 98, "view": {"fill": "#ffffff"}, "data": {"values": []}, "mark": "point"},
                        {
                          "width": 424, "height": 98, "view": {"fill": "#efefef", "stroke": "#b5b5b5", "strokeWidth": 2},
                          "data": {"name": "ratios"}, "transform": [{"filter": "datum.id == 'ae'"}],
                          "layer": [
                            {"mark": {"type": "text", "align": "right", "baseline": "middle", "x": 226, "y": 13.7, "fontSize": 13, "fontWeight": "bold", "color": "#111111"}, "encoding": {"text": {"field": "metric"}}},
                            {"mark": {"type": "text", "align": "left", "baseline": "middle", "x": 231, "y": 14.2, "fontSize": 10.8, "color": "#333333"}, "encoding": {"text": {"field": "basis"}}},
                            {"mark": {"type": "text", "align": "center", "baseline": "middle", "x": 212, "y": 77.3, "fontSize": 28, "fontWeight": "bold", "color": "#000000"}, "encoding": {"text": {"field": "value", "type": "quantitative", "format": ".2f"}}}
                          ]
                        }
                      ]
                    },
                    {"width": 1, "height": 30, "view": {"fill": "#ffffff"}, "data": {"values": []}, "mark": "point"}
                  ]
                }
              ]
            },
            {"width": 1865, "height": 4, "view": {"fill": "#000000", "stroke": null}, "data": {"values": []}, "mark": "point"}
          ]
        },
        {"width": 4, "height": 973, "view": {"fill": "#000000", "stroke": null}, "data": {"values": []}, "mark": "point"},
        {"width": 24, "height": 973, "view": {"fill": "#F5E6C8", "stroke": null}, "data": {"values": []}, "mark": "point"}
      ]
    },
    {"width": 1920, "height": 15, "view": {"fill": "#F5E6C8", "stroke": null}, "data": {"values": []}, "mark": "point"}
  ],
  "config": {
    "view": {"stroke": null},
    "text": {"font": "Liberation Sans"},
    "axis": {"labelFont": "Liberation Sans"},
    "legend": {"labelFont": "Liberation Sans"},
    "concat": {"spacing": 0}
  }
}
